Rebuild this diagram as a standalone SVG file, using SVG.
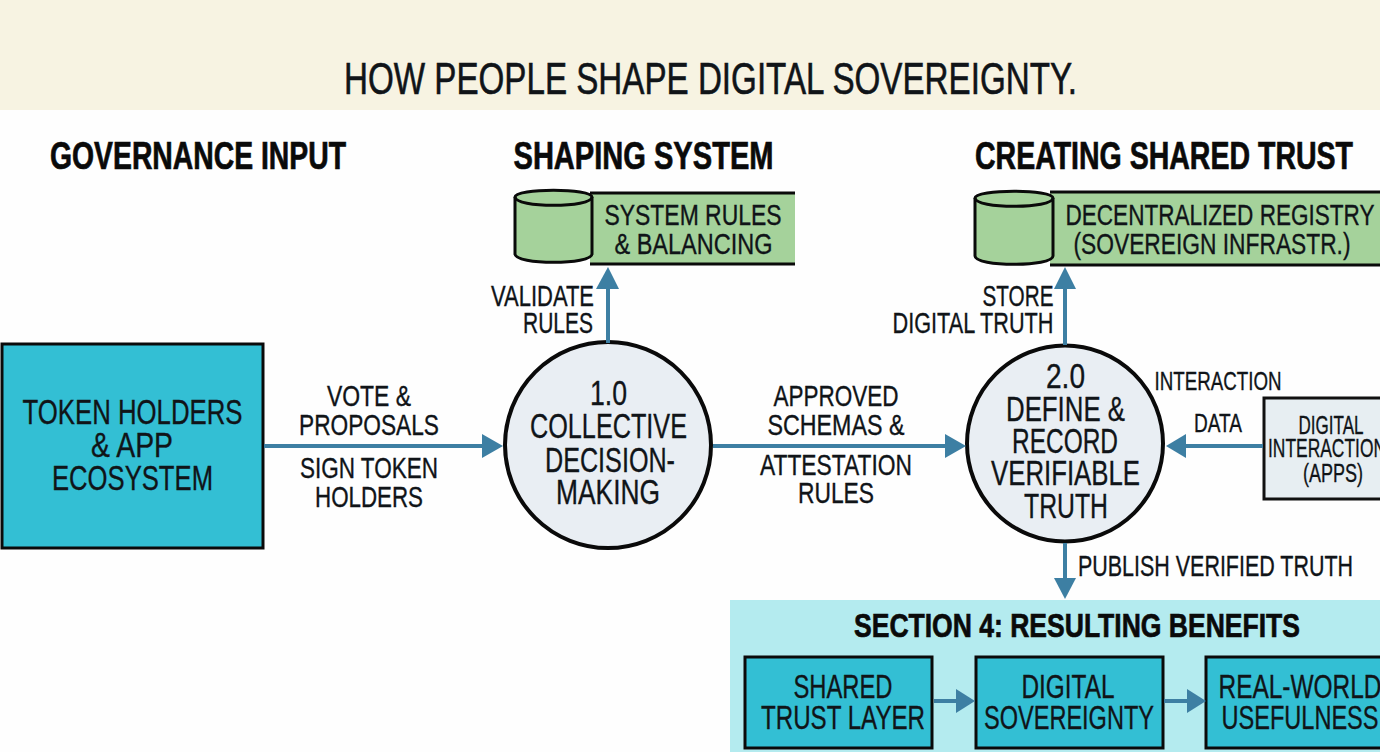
<svg xmlns="http://www.w3.org/2000/svg" width="1380" height="752" viewBox="0 0 1380 752">
<style>
text{font-family:"Liberation Sans",Arial,sans-serif;fill:#101418;stroke:#101418;stroke-width:.35px;text-anchor:middle}
.t{font-size:45px;stroke-width:.6px}.h{font-size:38px;font-weight:bold;fill:#0a0a0a;stroke:#0a0a0a;stroke-width:.7px}.s{font-size:34px;font-weight:bold;fill:#0a0a0a;stroke:#0a0a0a;stroke-width:.7px}
.n{font-size:35px}.l{font-size:29px}.d{font-size:26px}.b{font-size:33px}
.c{fill:#a5d29b;stroke:#0a0a0a;stroke-width:3}.bar{fill:#a5d29b}.e{fill:none;stroke:#0a0a0a;stroke-width:3}
.p{fill:#e9eef3;stroke:#0a0a0a;stroke-width:4}.box{fill:#33bfd4;stroke:#0a0a0a;stroke-width:3}
.f{stroke:#3d7fa3;stroke-width:4;fill:none}.a{fill:#3d7fa3}
</style>
<rect width="1380" height="752" fill="#fefefe"/>
<rect width="1380" height="110" fill="#f7f3e2"/>
<text class="t" x="710.500" y="94" textLength="733" lengthAdjust="spacingAndGlyphs">HOW PEOPLE SHAPE DIGITAL SOVEREIGNTY.</text>
<text class="h" x="198" y="169" textLength="296" lengthAdjust="spacingAndGlyphs">GOVERNANCE INPUT</text>
<text class="h" x="643.500" y="169" textLength="260" lengthAdjust="spacingAndGlyphs">SHAPING SYSTEM</text>
<text class="h" x="1164" y="169" textLength="378" lengthAdjust="spacingAndGlyphs">CREATING SHARED TRUST</text>

<g id="token-holders">
<rect x="2" y="344" width="261" height="204" fill="#33bfd4" stroke="#0a0a0a" stroke-width="3"/>
<text class="n" x="132.500" y="424" textLength="220" lengthAdjust="spacingAndGlyphs">TOKEN HOLDERS</text>
<text class="n" x="132" y="457" textLength="82" lengthAdjust="spacingAndGlyphs">&amp; APP</text>
<text class="n" x="132.500" y="490" textLength="161" lengthAdjust="spacingAndGlyphs">ECOSYSTEM</text>
</g>

<g id="process-1">
<circle class="p" cx="608" cy="445" r="103"/>
<text class="n" x="608.500" y="405" textLength="37" lengthAdjust="spacingAndGlyphs">1.0</text>
<text class="n" x="608.500" y="438" textLength="157" lengthAdjust="spacingAndGlyphs">COLLECTIVE</text>
<text class="n" x="610" y="472" textLength="130" lengthAdjust="spacingAndGlyphs">DECISION-</text>
<text class="n" x="608" y="504" textLength="104" lengthAdjust="spacingAndGlyphs">MAKING</text>
</g>

<g id="process-2">
<circle class="p" cx="1065" cy="443.500" r="98"/>
<text class="n" x="1065.500" y="388" textLength="39" lengthAdjust="spacingAndGlyphs">2.0</text>
<text class="n" x="1065.500" y="421" textLength="119" lengthAdjust="spacingAndGlyphs">DEFINE &amp;</text>
<text class="n" x="1065" y="453" textLength="106" lengthAdjust="spacingAndGlyphs">RECORD</text>
<text class="n" x="1065.500" y="485" textLength="149" lengthAdjust="spacingAndGlyphs">VERIFIABLE</text>
<text class="n" x="1066" y="518" textLength="84" lengthAdjust="spacingAndGlyphs">TRUTH</text>
</g>

<g id="store-rules">
<rect class="bar" x="590" y="193" width="205" height="71"/>
<path class="e" d="M590 193H795M590 264H795"/>
<path class="c" d="M515 197C515 188 592 188 592 197V254C592 265 515 265 515 254Z"/>
<path class="e" d="M515 197C515 208 592 208 592 197"/>
<text class="l" x="693" y="225" textLength="177" lengthAdjust="spacingAndGlyphs">SYSTEM RULES</text>
<text class="l" x="693.500" y="254" textLength="158" lengthAdjust="spacingAndGlyphs">&amp; BALANCING</text>
</g>

<g id="store-registry">
<rect class="bar" x="1050" y="193" width="330" height="71"/>
<path class="e" d="M1050 192H1380M1050 265H1380"/>
<path class="c" d="M975 198C975 189 1053 189 1053 198V256C1053 267 975 267 975 256Z"/>
<path class="e" d="M975 198C975 209 1053 209 1053 198"/>
<text class="l" x="1220" y="225" textLength="309" lengthAdjust="spacingAndGlyphs">DECENTRALIZED REGISTRY</text>
<text class="l" x="1212" y="254" textLength="277" lengthAdjust="spacingAndGlyphs">(SOVEREIGN INFRASTR.)</text>
</g>

<g id="digital-interaction">
<rect x="1264" y="398" width="130" height="101" fill="#e7eef2" stroke="#111" stroke-width="3"/>
<text class="d" x="1331" y="434" textLength="65" lengthAdjust="spacingAndGlyphs">DIGITAL</text>
<text class="d" x="1327" y="457" textLength="118" lengthAdjust="spacingAndGlyphs">INTERACTION</text>
<text class="d" x="1333" y="482" textLength="60" lengthAdjust="spacingAndGlyphs">(APPS)</text>
</g>

<g id="labels">
<text class="l" x="369" y="406" textLength="84" lengthAdjust="spacingAndGlyphs">VOTE &amp;</text>
<text class="l" x="369" y="435" textLength="140" lengthAdjust="spacingAndGlyphs">PROPOSALS</text>
<text class="l" x="369" y="478" textLength="138" lengthAdjust="spacingAndGlyphs">SIGN TOKEN</text>
<text class="l" x="369" y="507" textLength="108" lengthAdjust="spacingAndGlyphs">HOLDERS</text>
<text class="l" x="542.500" y="306" textLength="103" lengthAdjust="spacingAndGlyphs">VALIDATE</text>
<text class="l" x="558" y="333" textLength="70" lengthAdjust="spacingAndGlyphs">RULES</text>
<text class="l" x="836" y="406" textLength="125" lengthAdjust="spacingAndGlyphs">APPROVED</text>
<text class="l" x="836" y="435" textLength="137" lengthAdjust="spacingAndGlyphs">SCHEMAS &amp;</text>
<text class="l" x="836" y="475" textLength="152" lengthAdjust="spacingAndGlyphs">ATTESTATION</text>
<text class="l" x="836" y="503" textLength="76" lengthAdjust="spacingAndGlyphs">RULES</text>
<text class="l" x="1018" y="306" textLength="71" lengthAdjust="spacingAndGlyphs">STORE</text>
<text class="l" x="973" y="333" textLength="161" lengthAdjust="spacingAndGlyphs">DIGITAL TRUTH</text>
<text class="d" x="1218" y="390" textLength="127" lengthAdjust="spacingAndGlyphs">INTERACTION</text>
<text class="d" x="1218" y="432" textLength="48" lengthAdjust="spacingAndGlyphs">DATA</text>
<text class="l" x="1215.500" y="576" textLength="275" lengthAdjust="spacingAndGlyphs">PUBLISH VERIFIED TRUTH</text>
</g>

<g id="section-4">
<rect x="730" y="600" width="650" height="152" fill="#b4ebef"/>
<text class="s" x="1077" y="637" textLength="446" lengthAdjust="spacingAndGlyphs">SECTION 4: RESULTING BENEFITS</text>
</g>
<g id="benefit-trust">
<rect class="box" x="745" y="657" width="187" height="91"/>
<text class="b" x="843" y="698" textLength="99" lengthAdjust="spacingAndGlyphs">SHARED</text>
<text class="b" x="843" y="729" textLength="164" lengthAdjust="spacingAndGlyphs">TRUST LAYER</text>
</g>
<g id="benefit-sovereignty">
<rect class="box" x="976" y="657" width="187" height="91"/>
<text class="b" x="1068" y="698" textLength="93" lengthAdjust="spacingAndGlyphs">DIGITAL</text>
<text class="b" x="1069" y="729" textLength="170" lengthAdjust="spacingAndGlyphs">SOVEREIGNTY</text>
</g>
<g id="benefit-usefulness">
<rect class="box" x="1206" y="657" width="190" height="91"/>
<text class="b" x="1300" y="698" textLength="163" lengthAdjust="spacingAndGlyphs">REAL-WORLD</text>
<text class="b" x="1300" y="729" textLength="157" lengthAdjust="spacingAndGlyphs">USEFULNESS</text>
</g>

<g id="connectors">
<path class="f" d="M264 446H484"/><path class="a" d="M503 446L482 434V458Z"/>
<path class="f" d="M608 343V286"/><path class="a" d="M608 267L596 289H619Z"/>
<path class="f" d="M713 446H948"/><path class="a" d="M966 446L945 434V458Z"/>
<path class="f" d="M1065 345V286"/><path class="a" d="M1065 267L1054 289H1076Z"/>
<path class="f" d="M1263 446H1185"/><path class="a" d="M1166 446L1186 434V458Z"/>
<path class="f" d="M1065 543V582"/><path class="a" d="M1065 599L1054 578H1076Z"/>
<path class="f" d="M934 701H956"/><path class="a" d="M975 701L956 689V713Z"/>
<path class="f" d="M1164 701H1187"/><path class="a" d="M1206 701L1187 689V713Z"/>
</g>
</svg>
